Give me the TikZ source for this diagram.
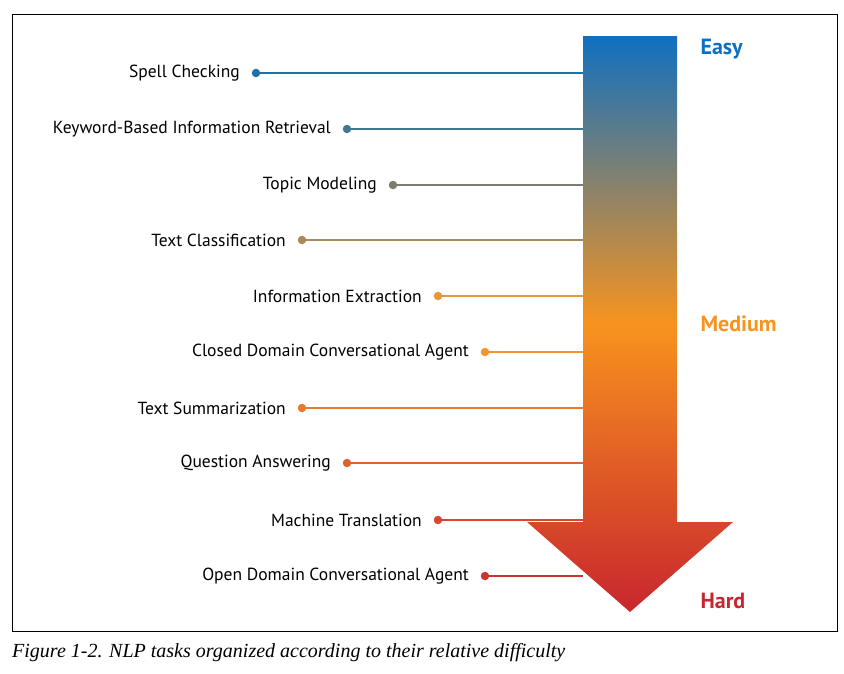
\documentclass[tikz,border=0pt]{standalone}
\usepackage{fontspec}
\setmainfont{Liberation Serif}
\setsansfont{PT Sans}
\definecolor{cblue}{RGB}{16,112,192}
\definecolor{corange}{RGB}{247,147,30}
\definecolor{cred}{RGB}{200,38,46}
\begin{document}
\begin{tikzpicture}[x=1pt,y=-1pt,
  lbl/.style={anchor=east,font=\sffamily\fontsize{17.5}{19}\selectfont,inner sep=0pt},
  dot/.style={circle,fill=#1,inner sep=0pt,minimum size=8.5pt},
  conn/.style={draw=#1,line width=1.3pt},
  lvl/.style={font=\sffamily\bfseries\fontsize{22}{24}\selectfont,anchor=west,text=#1}]
\useasboundingbox (0,0) rectangle (844,673);
\draw[line width=0.6pt] (12,14) rectangle (837,631);
\shade[top color=cblue, bottom color=cred, middle color=corange]
  (583,36) -- (677,36) -- (677,522) -- (733,522) -- (630,612) -- (527,522) -- (583,522) -- cycle;
\node[lvl=cblue] (easy) at (697,49) {Easy};
\node[lvl=corange] (med) at (697,324) {Medium};
\node[lvl=cred] (hard) at (697,601) {Hard};
\foreach \i/\y/\x/\r/\g/\b/\t in {
 1/73/256/30/112/168/Spell Checking,
 2/129/347/63/120/144/Keyword-Based Information Retrieval,
 3/185/393/122/126/112/Topic Modeling,
 4/240/302/168/138/88/Text Classification,
 5/296/438/232/150/58/Information Extraction,
 6/352/485/243/148/48/Closed Domain Conversational Agent,
 7/408/302/233/120/42/Text Summarization,
 8/463/347/224/96/48/Question Answering,
 9/520/438/216/69/48/Machine Translation,
 10/576/485/200/53/48/Open Domain Conversational Agent}{
 \definecolor{c\i}{RGB}{\r,\g,\b}
 \node[dot=c\i] (d\i) at (\x,\y) {};
 \coordinate (e\i) at (583,\y);
 \draw[conn=c\i] (d\i) -- (e\i);
 \node[lbl] (l\i) at (\x-16,\y) {\t};
}
\node[anchor=west,font=\itshape\fontsize{20}{22}\selectfont,inner sep=0pt] (cap) at (12,653) {Figure 1-2. NLP tasks organized according to their relative difficulty};
\end{tikzpicture}
\end{document}
